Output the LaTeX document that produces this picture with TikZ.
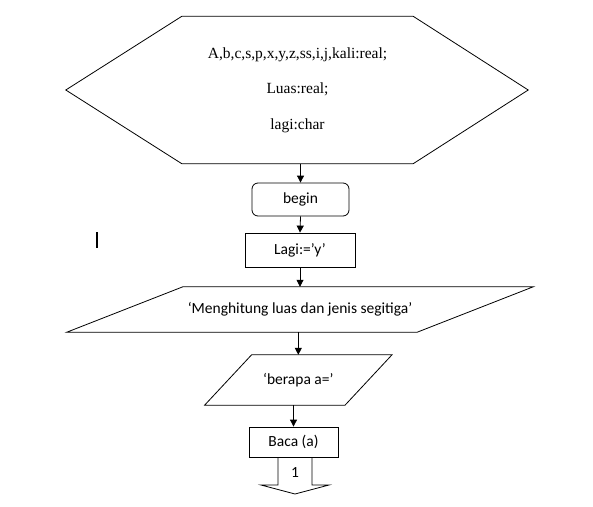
\documentclass[tikz,border=0pt]{standalone}
\usepackage{fontspec}
\setmainfont{Carlito}
\newfontfamily\timesfont{Liberation Serif}
\usetikzlibrary{arrows.meta,calc}

\begin{document}
\begin{tikzpicture}[x=1pt,y=-1pt,
		every node/.style={font=\fontsize{15.5}{18}\selectfont},
		garis/.style={line width=0.8pt},
		panah/.style={-{Triangle[length=7pt,width=7pt]},line width=0.8pt}]
			\useasboundingbox (0,0) rectangle (593,506);

			\node (deklarasi) at (297.5,90) [minimum width=231pt,minimum height=147pt,align=center,font=\timesfont\fontsize{15.5}{18}\selectfont] {A,b,c,s,p,x,y,z,ss,i,j,kali:real;\\[17.5pt]Luas:real;\\[17.5pt]lagi:char};
			\draw [garis] (deklarasi.north west) -- (deklarasi.north east) -- ($(deklarasi.east)+(115,0)$) -- (deklarasi.south east) -- (deklarasi.south west) -- ($(deklarasi.west)+(-116,0)$) -- cycle;

			\node (mulai) at (300.5,199.5) [draw,garis,rounded corners=6pt,minimum width=97pt,minimum height=33pt] {begin};
			\node (lagi) at (300,250) [draw,garis,minimum width=110pt,minimum height=34pt] {Lagi:=’y’};

			\node (judul) at (300,309.5) [minimum width=350pt,minimum height=45pt] {‘Menghitung luas dan jenis segitiga’};
			\draw [garis] ($(judul.south west)+(-58,0)$) -- ($(judul.north west)+(58,0)$) -- ($(judul.north east)+(58,0)$) -- ($(judul.south east)+(-58,0)$) -- cycle;

			\node (tanya) at (298.3,380) [minimum width=140pt,minimum height=50pt] {‘berapa a=’};
			\draw [garis] ($(tanya.south west)+(-23.5,0)$) -- ($(tanya.north west)+(23.5,0)$) -- ($(tanya.north east)+(23.5,0)$) -- ($(tanya.south east)+(-23.5,0)$) -- cycle;

			\node (baca) at (293.5,442) [draw,garis,minimum width=89pt,minimum height=30pt] {Baca (a)};

			% penghubung ke halaman berikut
			\node (sambung) at (295,473) {1};
			\draw [garis] (278,457) -- (278,485) -- (261,485) -- (295,494) -- (329,485) -- (312,485) -- (312,457);

			\draw [panah] (mulai.north |- deklarasi.south) to (mulai.north);
			\draw [panah] (mulai.south) to (lagi.north);
			\draw [panah] (lagi.south) to (judul.north);
			\draw [panah] (tanya.north |- judul.south) to (tanya.north);
			\draw [panah] (baca.north |- tanya.south) to (baca.north);

			\draw [line width=1.6pt] (97,232) -- (97,248);
	\end{tikzpicture}
\end{document}
